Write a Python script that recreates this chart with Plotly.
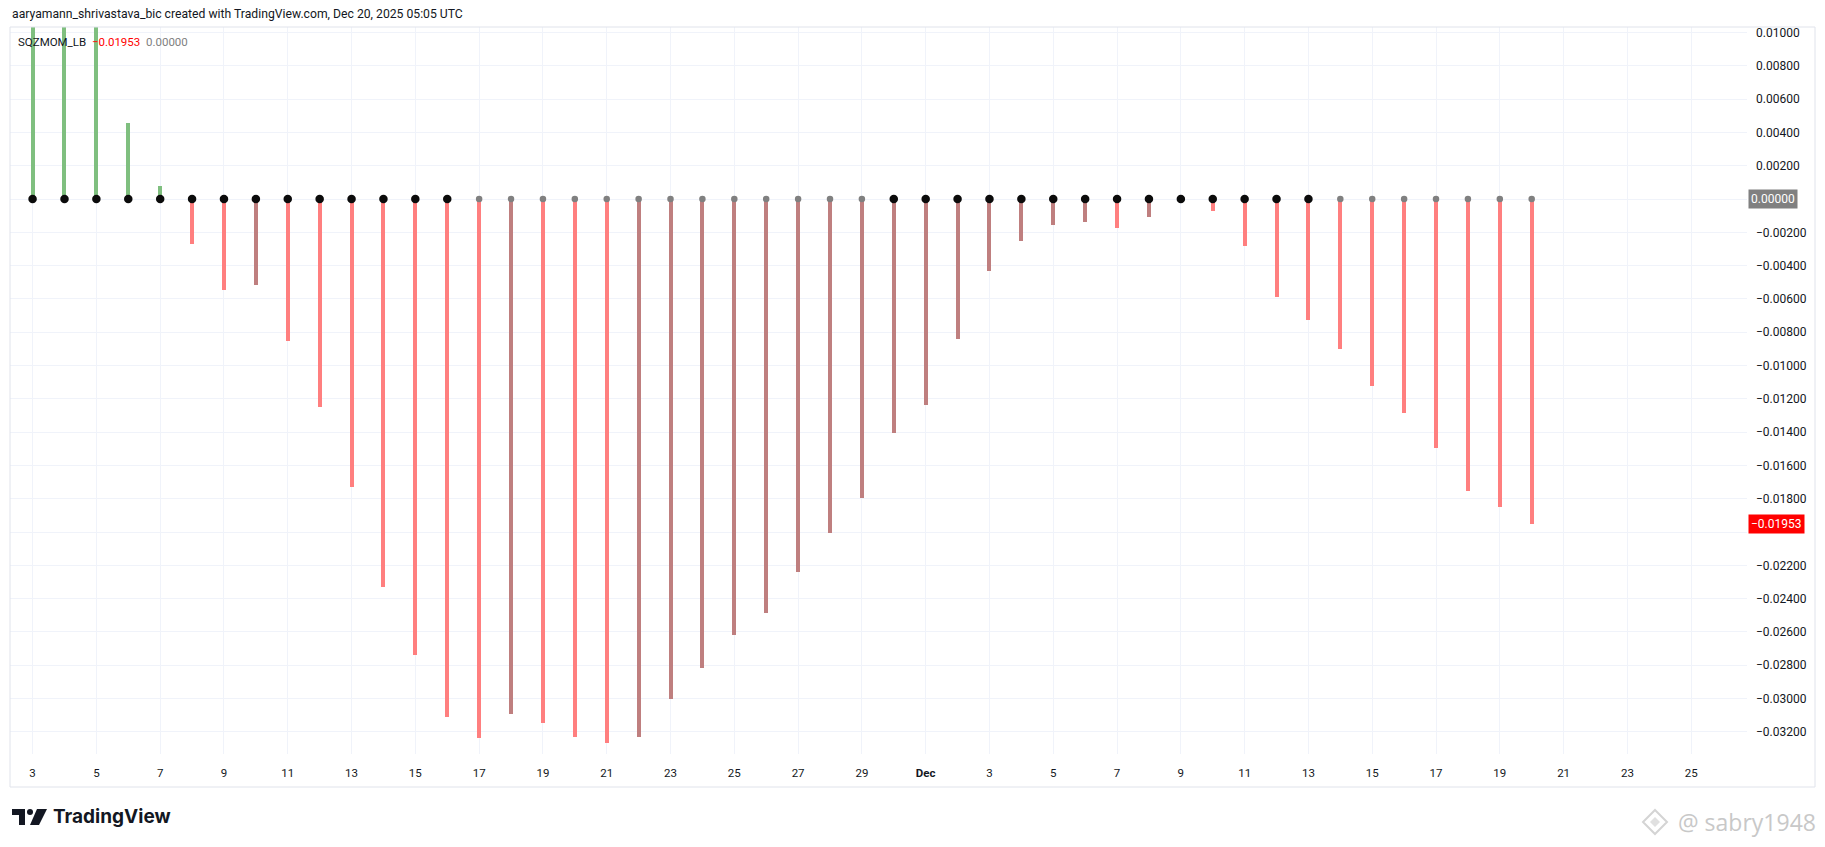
import plotly.graph_objects as go
import pandas as pd

# ---------------- data ----------------
dates = pd.date_range("2025-11-03", "2025-12-20", freq="D")
momentum = [
    0.0185, 0.0160, 0.0135, 0.00454, 0.00078,
    -0.00273, -0.00545, -0.00517, -0.00853, -0.01251, -0.01727, -0.02328,
    -0.0274, -0.0311, -0.03236, -0.0309, -0.03146, -0.0323, -0.03264,
    -0.0323, -0.0300, -0.02817, -0.02621, -0.02488, -0.02237, -0.02006,
    -0.01796, -0.01405,
    -0.01237, -0.00839, -0.00433, -0.00252, -0.00154, -0.00136, -0.00175,
    -0.00107, -0.0001, -0.00072, -0.00282, -0.00589, -0.00727, -0.00902,
    -0.01125, -0.01286, -0.01496, -0.01754, -0.01852, -0.01953,
]
squeeze_on = [1] * 14 + [0] * 13 + [1] * 14 + [0] * 7

y_ticks = [0.01 - 0.002 * i for i in range(22)]
last_value = momentum[-1]
zero_value = 0.0


def fmt(v):
    if abs(v) < 1e-12:
        return "0.00000"
    return ("−" if v < 0 else "") + f"{abs(v):.5f}"


# ticks hidden behind the value badges (zero line badge, last value badge)
y_tick_text = ["" if (abs(v - zero_value) < 1e-9 or abs(v - last_value) < 0.0008) else fmt(v)
               for v in y_ticks]

x_tick_dates = list(pd.date_range("2025-11-03", "2025-11-29", freq="2D")) + \
               list(pd.date_range("2025-12-01", "2025-12-25", freq="2D"))
x_tick_text = [("<b>Dec</b>" if (d.month == 12 and d.day == 1) else str(d.day)) for d in x_tick_dates]

# ---------------- styling helpers ----------------
LIME = "rgb(127,255,127)"
GREEN = "rgb(127,191,127)"
RED = "rgb(255,127,127)"
MAROON = "rgb(191,127,127)"

bar_colors = []
for i, v in enumerate(momentum):
    prev = momentum[i - 1] if i > 0 else None
    if v > 0:
        bar_colors.append(LIME if (prev is not None and v > prev) else GREEN)
    else:
        bar_colors.append(RED if (prev is None or v < prev) else MAROON)

L, R, T, B, W, H = 10, 78, 27, 93, 1825, 847
PW, PH = W - L - R, H - T - B


def px_x(x):
    return (x - L) / PW


def px_y(y):
    return (T + PH - y) / PH


fig = go.Figure()

day_ms = 86400000
fig.add_trace(go.Bar(
    x=dates, y=momentum, base=0,
    width=day_ms * 4 / 31.9,
    marker=dict(color=bar_colors, line=dict(width=0)),
    hoverinfo="skip",
))

on_x = [d for d, s in zip(dates, squeeze_on) if s]
off_x = [d for d, s in zip(dates, squeeze_on) if not s]
fig.add_trace(go.Scatter(x=on_x, y=[0] * len(on_x), mode="markers",
                         marker=dict(color="#0b0b0b", size=8.5, line=dict(width=0)),
                         hoverinfo="skip", cliponaxis=False))
fig.add_trace(go.Scatter(x=off_x, y=[0] * len(off_x), mode="markers",
                         marker=dict(color="#808080", size=6.5, line=dict(width=0)),
                         hoverinfo="skip", cliponaxis=False))

FONT = "Roboto, 'Open Sans', sans-serif"
TXT = "#131722"
GRID = "#f0f3fa"

fig.update_layout(
    width=W, height=H,
    margin=dict(l=L, r=R, t=T, b=B),
    paper_bgcolor="white", plot_bgcolor="white",
    showlegend=False, bargap=0,
    font=dict(family=FONT, size=12, color=TXT),
    xaxis=dict(
        type="date",
        range=["2025-11-02 07:00", "2025-12-26 18:00"],
        tickvals=x_tick_dates, ticktext=x_tick_text,
        showgrid=True, gridcolor=GRID, gridwidth=1,
        zeroline=False, showline=False, ticks="",
        tickfont=dict(size=11.5, color=TXT, family=FONT),
        ticklabelstandoff=10,
        fixedrange=True,
    ),
    yaxis=dict(
        side="right",
        range=[-0.03333, 0.01033],
        tickvals=y_ticks, ticktext=y_tick_text,
        showgrid=True, gridcolor=GRID, gridwidth=1,
        zeroline=False, showline=False, ticks="",
        tickfont=dict(size=12, color=TXT, family=FONT),
        ticklabelstandoff=8,
        fixedrange=True,
    ),
)

# pane borders
border = "#e0e3eb"
shapes = [
    dict(type="line", xref="paper", yref="paper", x0=px_x(10), x1=px_x(10), y0=px_y(27), y1=px_y(787),
         line=dict(color=border, width=1)),
    dict(type="line", xref="paper", yref="paper", x0=px_x(10), x1=px_x(1815), y0=px_y(27), y1=px_y(27),
         line=dict(color=border, width=1)),
    dict(type="line", xref="paper", yref="paper", x0=px_x(1815), x1=px_x(1815), y0=px_y(27), y1=px_y(787),
         line=dict(color=border, width=1)),
    dict(type="line", xref="paper", yref="paper", x0=px_x(10), x1=px_x(1815), y0=px_y(787), y1=px_y(787),
         line=dict(color=border, width=1)),
]


def path(points):
    return "M " + " L ".join(f"{px_x(x)},{px_y(y)}" for x, y in points) + " Z"


# TradingView logo
shapes.append(dict(type="path", xref="paper", yref="paper",
                   path=path([(12, 809), (25, 809), (25, 825), (19, 825), (19, 815), (12, 815)]),
                   fillcolor="#131722", line=dict(width=0)))
shapes.append(dict(type="circle", xref="paper", yref="paper",
                   x0=px_x(27), x1=px_x(33), y0=px_y(809), y1=px_y(815),
                   fillcolor="#131722", line=dict(width=0)))
shapes.append(dict(type="path", xref="paper", yref="paper",
                   path=path([(37, 809), (47, 809), (39, 825), (30, 825)]),
                   fillcolor="#131722", line=dict(width=0)))
# watermark icon (diamond)
shapes.append(dict(type="path", xref="paper", yref="paper",
                   path=path([(1655, 810), (1667, 822), (1655, 834), (1643, 822)]),
                   fillcolor="rgba(0,0,0,0)", line=dict(color="#d4d4d4", width=2)))
shapes.append(dict(type="path", xref="paper", yref="paper",
                   path=path([(1655, 817), (1660, 822), (1655, 827), (1650, 822)]),
                   fillcolor="#e0e0e0", line=dict(width=0)))
fig.update_layout(shapes=shapes)

annotations = [
    dict(text="aaryamann_shrivastava_bic created with TradingView.com, Dec 20, 2025 05:05 UTC",
         xref="paper", yref="paper", x=px_x(10), y=px_y(14), xanchor="left", yanchor="middle",
         showarrow=False, font=dict(size=12.2, color=TXT, family=FONT)),
    dict(text="SQZMOM_LB&nbsp;&nbsp;<span style='color:#ff0000'>" + fmt(last_value) + "</span>&nbsp;&nbsp;"
              "<span style='color:#808080'>" + fmt(zero_value) + "</span>",
         xref="paper", yref="paper", x=px_x(16), y=px_y(42), xanchor="left", yanchor="middle",
         showarrow=False, font=dict(size=11.5, color=TXT, family=FONT)),
    dict(text=fmt(zero_value), xref="paper", yref="y", x=px_x(1748), y=zero_value,
         xanchor="left", yanchor="middle",
         showarrow=False, bgcolor="#808080", borderpad=2,
         font=dict(size=12, color="white", family=FONT)),
    dict(text=fmt(last_value), xref="paper", yref="y", x=px_x(1748), y=last_value,
         xanchor="left", yanchor="middle",
         showarrow=False, bgcolor="#ff0000", borderpad=2,
         font=dict(size=12, color="white", family=FONT)),
    dict(text="<b>TradingView</b>", xref="paper", yref="paper", x=px_x(51), y=px_y(817),
         xanchor="left", yanchor="middle", showarrow=False,
         font=dict(size=19, color="#131722", family="Inter, Roboto, sans-serif")),
    dict(text="@ sabry1948", xref="paper", yref="paper", x=px_x(1818), y=px_y(822),
         xanchor="right", yanchor="middle", showarrow=False,
         font=dict(size=23, color="#c8c8c8", family="'Open Sans', sans-serif")),
]
fig.update_layout(annotations=annotations)

fig.write_html("out.html", config={"displayModeBar": False},
               post_script="document.body.style.margin='0';document.body.style.overflow='hidden';")
